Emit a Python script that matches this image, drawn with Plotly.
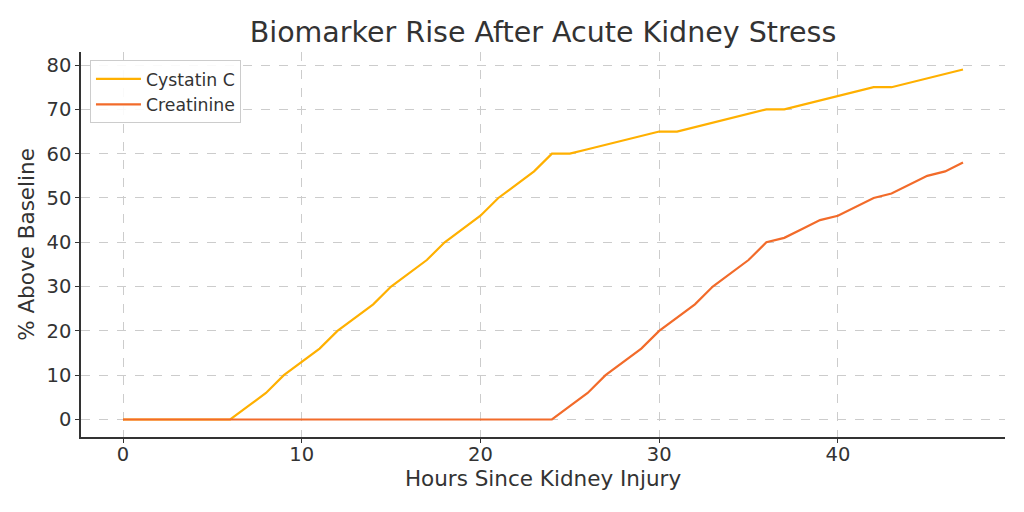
import plotly.graph_objects as go

hours = list(range(48))
cystatin_c = [0, 0, 0, 0, 0, 0, 0, 3, 6, 10, 13, 16, 20, 23, 26, 30, 33, 36, 40, 43,
              46, 50, 53, 56, 60, 60, 61, 62, 63, 64, 65, 65, 66, 67, 68, 69, 70, 70, 71, 72,
              73, 74, 75, 75, 76, 77, 78, 79]
creatinine = [0] * 25 + [3, 6, 10, 13, 16, 20, 23, 26, 30, 33, 36, 40, 41, 43, 45,
                         46, 48, 50, 51, 53, 55, 56, 58]
x_ticks = [0, 10, 20, 30, 40]
y_ticks = [0, 10, 20, 30, 40, 50, 60, 70, 80]

font = "DejaVu Sans"
fig = go.Figure()
fig.add_trace(go.Scatter(x=hours, y=cystatin_c, mode="lines", name="Cystatin C",
                         line=dict(color="#FFB000", width=2.2)))
fig.add_trace(go.Scatter(x=hours, y=creatinine, mode="lines", name="Creatinine",
                         line=dict(color="#F26B2A", width=2.2)))

fig.update_layout(
    width=1024, height=512,
    margin=dict(l=73, r=27, t=44, b=83, autoexpand=False),
    paper_bgcolor="white", plot_bgcolor="white",
    font=dict(family=font, color="#333333"),
    title=dict(text="Biomarker Rise After Acute Kidney Stress", x=0.5, xanchor="center",
               xref="paper", y=1 - 24 / 512, yanchor="middle", automargin=False,
               font=dict(size=28.5, color="#333333")),
    legend=dict(x=0.0097, y=0.979, xanchor="left", yanchor="top", bgcolor="rgba(255,255,255,0.9)",
                bordercolor="#cccccc", borderwidth=1, font=dict(size=17.3, color="#333333"),
                tracegroupgap=2, itemwidth=45),
    showlegend=True,
)
fig.update_xaxes(range=[-2.35, 49.35], tickvals=x_ticks, showgrid=True, gridcolor="#cccccc",
                 griddash="dash", gridwidth=1, showline=True, linecolor="#333333", linewidth=1.5,
                 ticks="outside", ticklen=4, tickcolor="#333333", zeroline=False, automargin=False,
                 ticklabelstandoff=-5,
                 tickfont=dict(size=19.5, color="#333333"),
                 title=dict(text="Hours Since Kidney Injury", font=dict(size=21.5, color="#333333"), standoff=6))
fig.update_yaxes(range=[-3.95, 82.95], tickvals=y_ticks, showgrid=True, gridcolor="#cccccc",
                 griddash="dash", gridwidth=1, showline=True, linecolor="#333333", linewidth=1.5,
                 ticks="outside", ticklen=4, tickcolor="#333333", zeroline=False, automargin=False,
                 tickfont=dict(size=19.5, color="#333333"),
                 title=dict(text="% Above Baseline", font=dict(size=21.5, color="#333333"), standoff=6))

fig.write_html("out.html")
